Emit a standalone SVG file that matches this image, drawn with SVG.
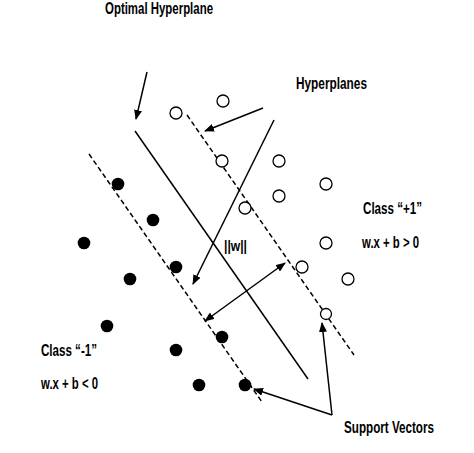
<svg xmlns="http://www.w3.org/2000/svg" width="474" height="453" viewBox="0 0 474 453">
<style>
.t{font-family:"Liberation Sans",Arial,sans-serif;font-weight:bold;font-size:16px;fill:#000}
.sl{stroke:#000;stroke-width:1.5;fill:none}
.dl{stroke:#000;stroke-width:1.5;fill:none;stroke-dasharray:5 3}
.ar{stroke:#000;stroke-width:1.5;fill:none;marker-end:url(#ah)}
.op{fill:#fff;stroke:#000;stroke-width:1.3}
.fp{fill:#000}
</style>
<defs>
<marker id="ah" viewBox="0 0 10 8" refX="9" refY="4" markerWidth="10" markerHeight="8" markerUnits="userSpaceOnUse" orient="auto-start-reverse">
<path d="M0,0 L10,4 L0,8 Z" fill="#000"/>
</marker>
</defs>
<g id="labels">
<text class="t" x="105" y="14" textLength="108" lengthAdjust="spacingAndGlyphs">Optimal Hyperplane</text>
<text class="t" x="296" y="89" textLength="71" lengthAdjust="spacingAndGlyphs">Hyperplanes</text>
<text class="t" x="363" y="214" textLength="59" lengthAdjust="spacingAndGlyphs">Class “+1”</text>
<text class="t" x="362" y="248" textLength="57" lengthAdjust="spacingAndGlyphs">w.x + b &gt; 0</text>
<text class="t" x="41" y="356" textLength="56" lengthAdjust="spacingAndGlyphs">Class “-1”</text>
<text class="t" x="41" y="389" textLength="57" lengthAdjust="spacingAndGlyphs">w.x + b &lt; 0</text>
<text class="t" x="344" y="433" textLength="90" lengthAdjust="spacingAndGlyphs">Support Vectors</text>
<text class="t" x="224" y="251" textLength="23" lengthAdjust="spacingAndGlyphs" style="font-size:15px">||w||</text>
</g>
<g id="connectors">
<line id="optimal-hyperplane" class="sl" x1="135" y1="131" x2="308" y2="379"/>
<line id="hyperplane-neg" class="dl" x1="89" y1="154" x2="262" y2="402"/>
<line id="hyperplane-pos" class="dl" x1="187" y1="115" x2="354" y2="355"/>
<line class="ar" x1="147" y1="72" x2="136" y2="119"/>
<line class="ar" x1="263" y1="108" x2="205" y2="131"/>
<line class="ar" x1="274" y1="120" x2="193" y2="284"/>
<line class="ar" x1="205" y1="321" x2="285" y2="263" style="marker-start:url(#ah)"/>
<line class="ar" x1="332" y1="415" x2="254" y2="389"/>
<line class="ar" x1="332" y1="415" x2="322" y2="323"/>
</g>
<g id="class-pos">
<circle class="op" cx="176" cy="113" r="6"/>
<circle class="op" cx="223" cy="101" r="6"/>
<circle class="op" cx="222" cy="161" r="6"/>
<circle class="op" cx="279" cy="161" r="6"/>
<circle class="op" cx="326" cy="184" r="6"/>
<circle class="op" cx="279" cy="196" r="6"/>
<circle class="op" cx="245" cy="208" r="6"/>
<circle class="op" cx="326" cy="243" r="6"/>
<circle class="op" cx="302" cy="267" r="6"/>
<circle class="op" cx="348" cy="279" r="6"/>
<circle class="op" cx="326" cy="314" r="5.5"/>
</g>
<g id="class-neg">
<circle class="fp" cx="118" cy="184" r="6.3"/>
<circle class="fp" cx="153" cy="220" r="6.3"/>
<circle class="fp" cx="84" cy="243" r="6.3"/>
<circle class="fp" cx="176" cy="267" r="6.3"/>
<circle class="fp" cx="130" cy="279" r="6.3"/>
<circle class="fp" cx="107" cy="326" r="6.3"/>
<circle class="fp" cx="222" cy="337" r="6.3"/>
<circle class="fp" cx="176" cy="350" r="6.3"/>
<circle class="fp" cx="199" cy="385" r="6.3"/>
<circle class="fp" cx="245" cy="385" r="6.3"/>
</g>
</svg>
